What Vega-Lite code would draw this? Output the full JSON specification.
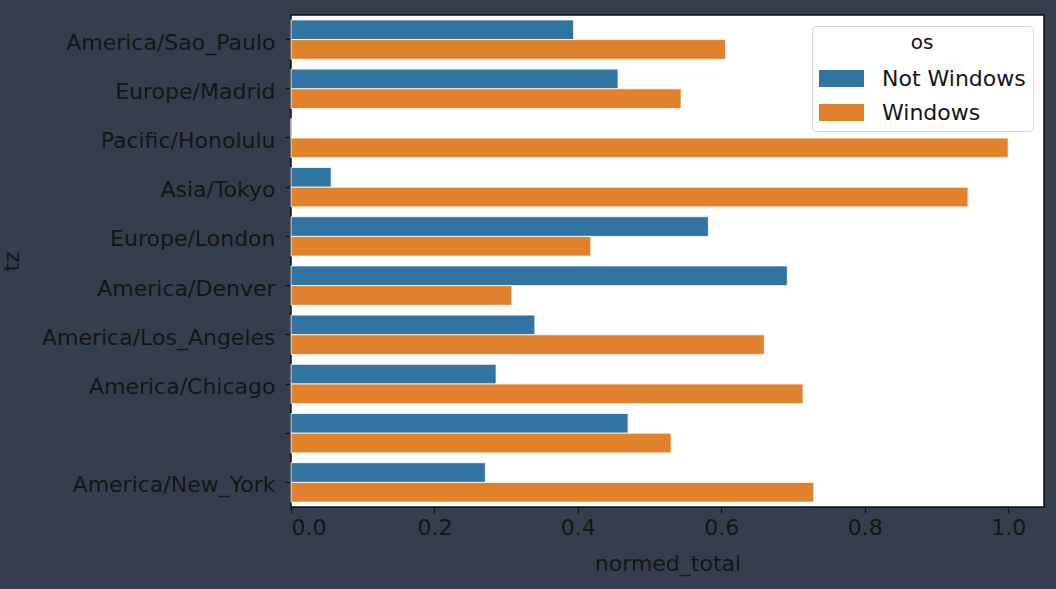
{
  "$schema": "https://vega.github.io/schema/vega-lite/v6.json",
  "width": 753,
  "height": 492,
  "autosize": "none",
  "padding": {"left": 291, "top": 15, "right": 12, "bottom": 82},
  "background": "#353e4f",
  "config": {
    "font": "DejaVu Sans",
    "view": {"fill": "white", "stroke": "#111111", "strokeWidth": 1.5},
    "axis": {
      "labelFont": "DejaVu Sans",
      "titleFont": "DejaVu Sans",
      "labelFontSize": 22,
      "titleFontSize": 22,
      "labelColor": "#151515",
      "titleColor": "#151515",
      "titleFontWeight": "normal",
      "tickColor": "#151515",
      "tickSize": 6,
      "tickWidth": 1.3,
      "labelLimit": 400,
      "grid": false,
      "domain": false
    },
    "legend": {
      "labelFont": "DejaVu Sans",
      "titleFont": "DejaVu Sans"
    }
  },
  "data": {
    "values": [
      {"tz": "America/Sao_Paulo", "os": "Not Windows", "normed_total": 0.394},
      {"tz": "America/Sao_Paulo", "os": "Windows", "normed_total": 0.606},
      {"tz": "Europe/Madrid", "os": "Not Windows", "normed_total": 0.456},
      {"tz": "Europe/Madrid", "os": "Windows", "normed_total": 0.544},
      {"tz": "Pacific/Honolulu", "os": "Not Windows", "normed_total": 0.0},
      {"tz": "Pacific/Honolulu", "os": "Windows", "normed_total": 1.0},
      {"tz": "Asia/Tokyo", "os": "Not Windows", "normed_total": 0.056},
      {"tz": "Asia/Tokyo", "os": "Windows", "normed_total": 0.944},
      {"tz": "Europe/London", "os": "Not Windows", "normed_total": 0.582},
      {"tz": "Europe/London", "os": "Windows", "normed_total": 0.418},
      {"tz": "America/Denver", "os": "Not Windows", "normed_total": 0.692},
      {"tz": "America/Denver", "os": "Windows", "normed_total": 0.308},
      {"tz": "America/Los_Angeles", "os": "Not Windows", "normed_total": 0.340},
      {"tz": "America/Los_Angeles", "os": "Windows", "normed_total": 0.660},
      {"tz": "America/Chicago", "os": "Not Windows", "normed_total": 0.286},
      {"tz": "America/Chicago", "os": "Windows", "normed_total": 0.714},
      {"tz": "", "os": "Not Windows", "normed_total": 0.470},
      {"tz": "", "os": "Windows", "normed_total": 0.530},
      {"tz": "America/New_York", "os": "Not Windows", "normed_total": 0.271},
      {"tz": "America/New_York", "os": "Windows", "normed_total": 0.729}
    ]
  },
  "mark": {"type": "bar", "stroke": "white", "strokeWidth": 0.8},
  "encoding": {
    "y": {
      "field": "tz",
      "type": "nominal",
      "sort": null,
      "title": "tz",
      "scale": {"paddingInner": 0.2, "paddingOuter": 0.1},
      "axis": {"labelPadding": 10, "labelOffset": 3, "titlePadding": 68}
    },
    "yOffset": {
      "field": "os",
      "type": "nominal",
      "scale": {"paddingInner": 0, "paddingOuter": 0}
    },
    "x": {
      "field": "normed_total",
      "type": "quantitative",
      "title": "normed_total",
      "scale": {"domain": [0, 1.05], "nice": false},
      "axis": {"values": [0, 0.2, 0.4, 0.6, 0.8, 1.0], "format": ".1f", "labelPadding": 4, "titlePadding": 15}
    },
    "color": {
      "field": "os",
      "type": "nominal",
      "scale": {"domain": ["Not Windows", "Windows"], "range": ["#3274a1", "#e1812c"]},
      "legend": {
        "orient": "top-right",
        "offset": 11,
        "title": "os",
        "titleAnchor": "middle",
        "titleFontSize": 20,
        "titleFontWeight": "normal",
        "titleColor": "#151515",
        "titlePadding": 3,
        "labelFontSize": 22,
        "labelColor": "#151515",
        "labelOffset": 18,
        "symbolType": "M-1,-0.38H1V0.38H-1Z",
        "symbolSize": 2025,
        "symbolStrokeWidth": 0,
        "symbolOpacity": 1,
        "rowPadding": 0,
        "fillColor": "white",
        "strokeColor": "#d8d8d8",
        "cornerRadius": 4,
        "padding": 7
      }
    }
  }
}
